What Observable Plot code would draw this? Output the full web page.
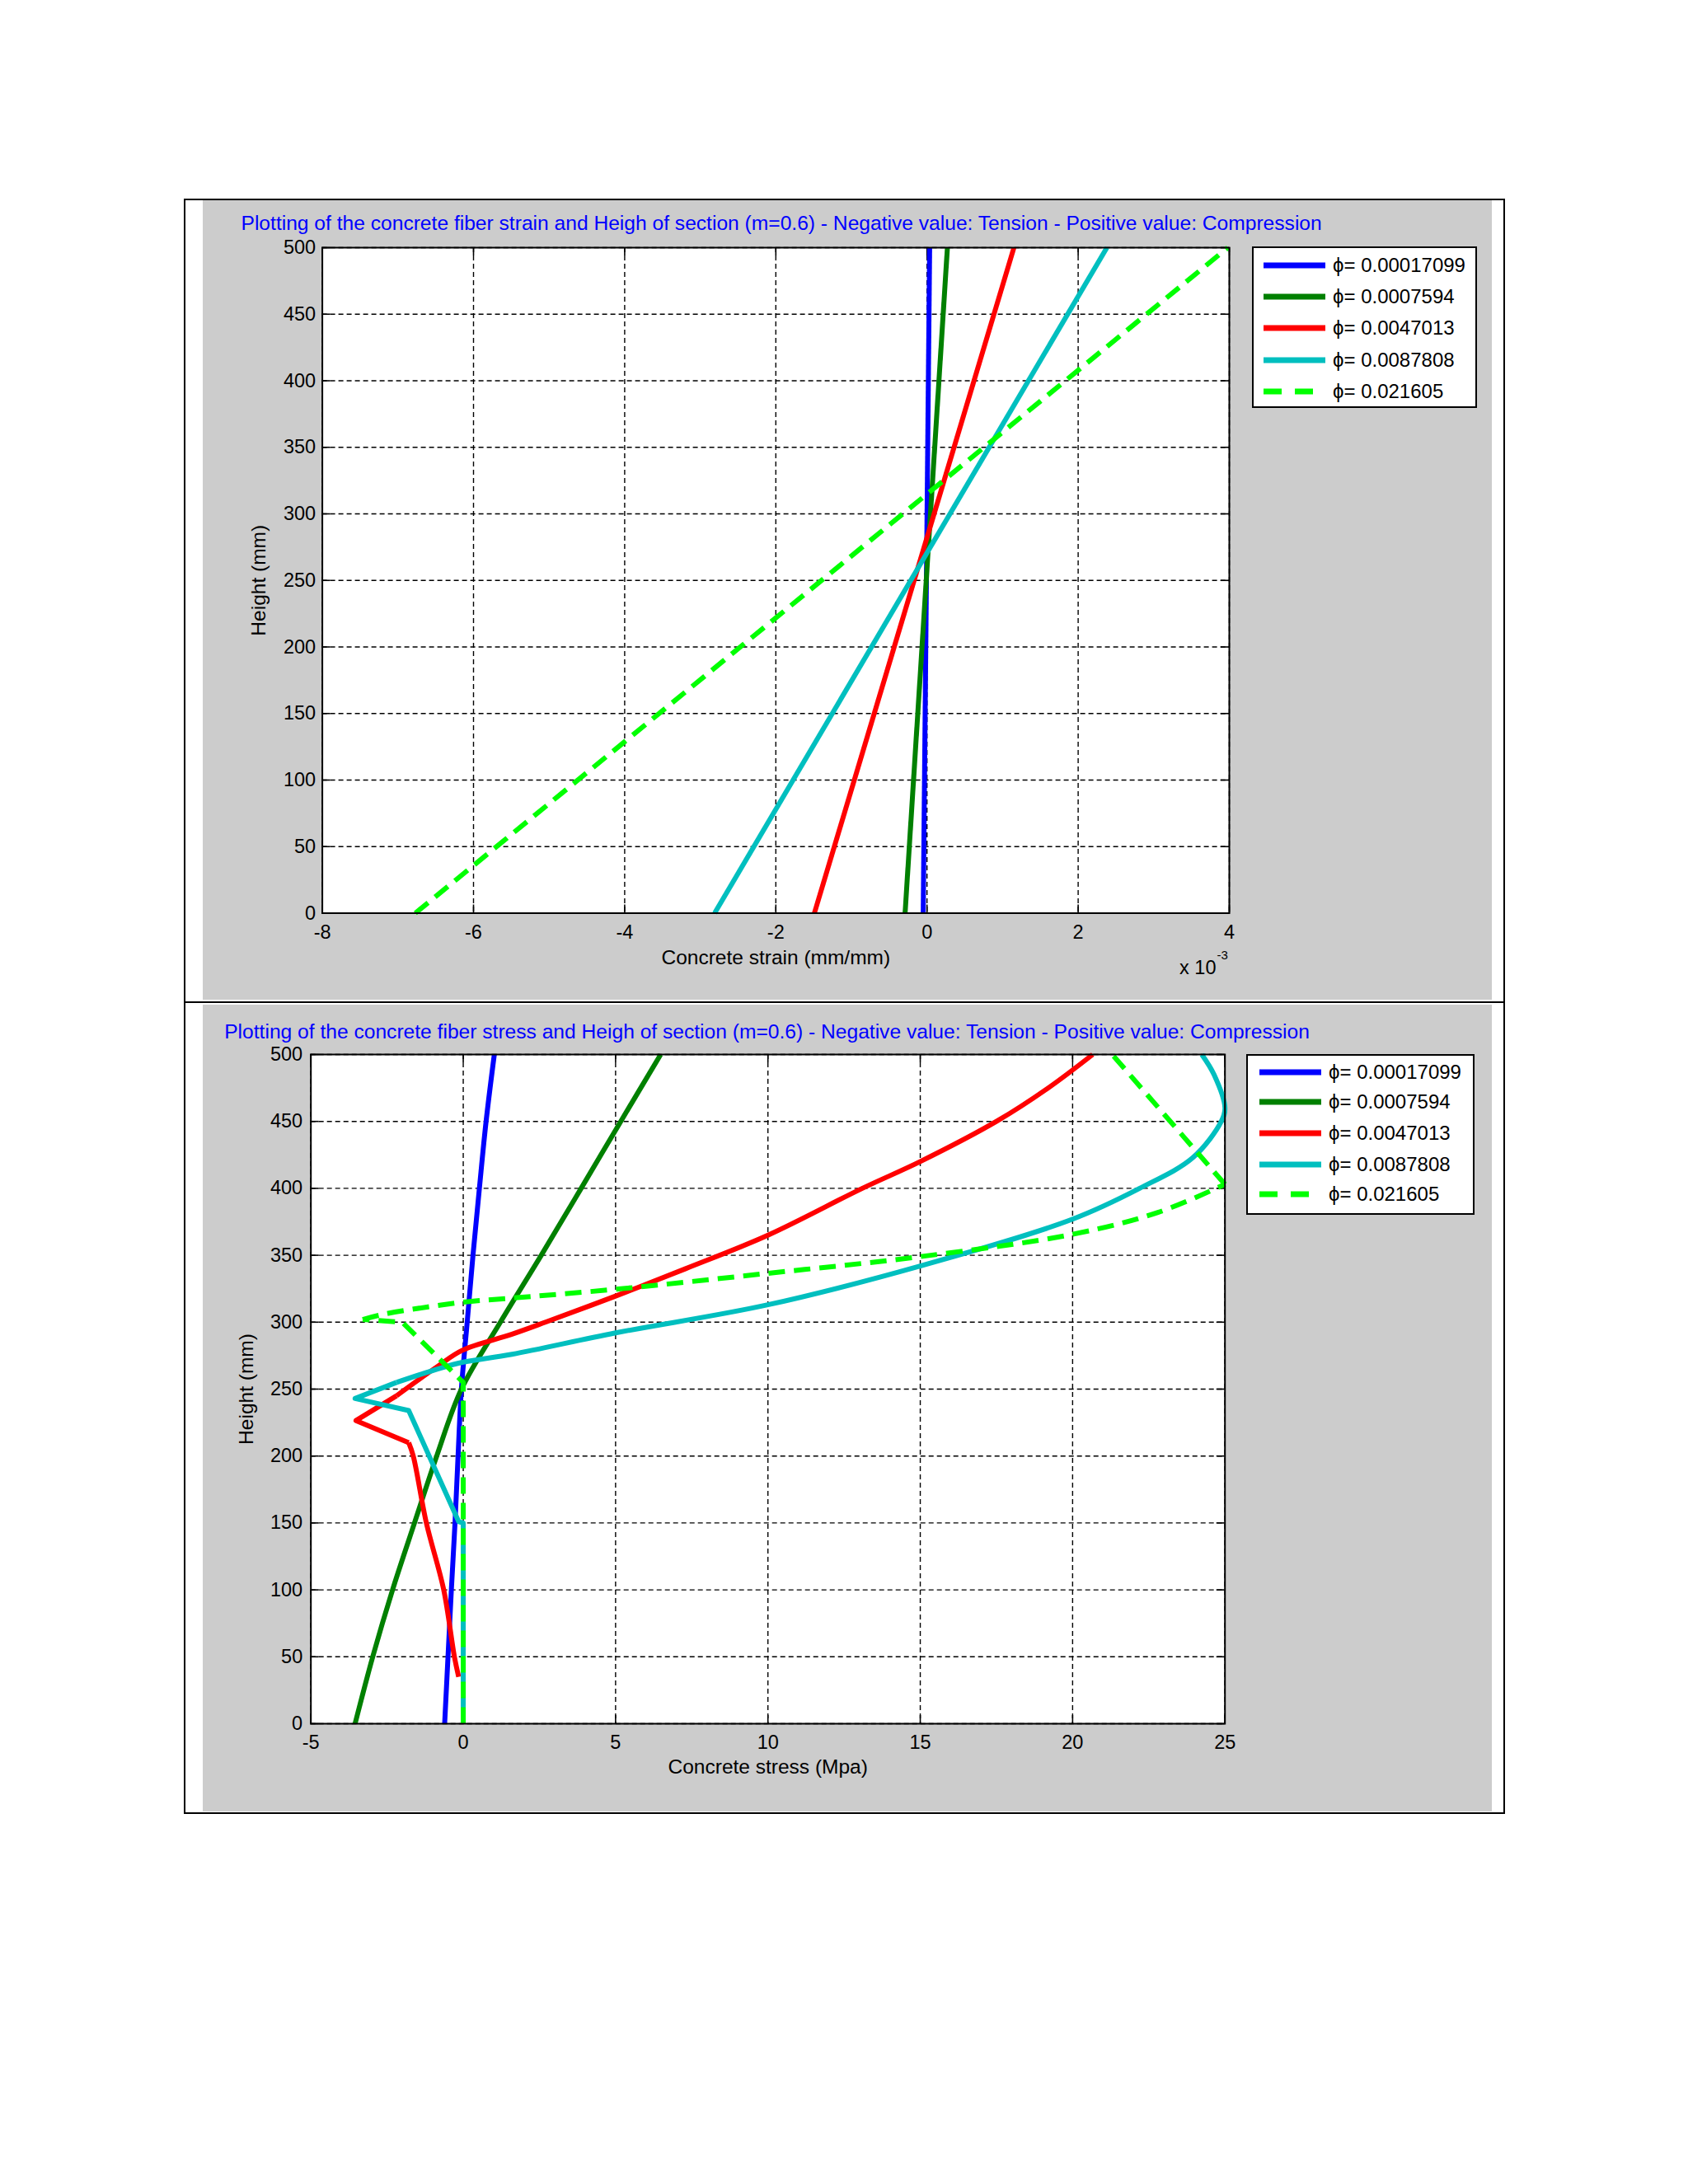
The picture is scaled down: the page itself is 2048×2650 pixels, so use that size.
<!DOCTYPE html>
<html>
<head>
<meta charset="utf-8">
<script src="https://cdn.jsdelivr.net/npm/d3@7"></script>
<script src="https://cdn.jsdelivr.net/npm/@observablehq/plot@0.6"></script>
<style>
  html, body { margin: 0; padding: 0; background: #ffffff; }
  body { width: 2048px; height: 2650px; position: relative; font-family: "Liberation Sans", Arial, sans-serif; }
  .abs { position: absolute; }
  #outer { left: 223px; top: 241px; width: 1599px; height: 1956px; border: 2px solid #000; }
  #divider { left: 225px; top: 1215px; width: 1599px; height: 2px; background: #000; }
  .legend { box-sizing: border-box; border: 2px solid #000; background: #fff; }
  .legrow { position: absolute; left: 0; height: 30px; display: flex; align-items: center; }
  .legrow span { font-size: 24px; color: #000; white-space: nowrap; margin-left: 9px; }
  svg.plotsvg { display: block; }
</style>
</head>
<body>
<div id="outer" class="abs"></div>
<div id="divider" class="abs"></div>
<div id="topChart" class="abs" style="left:246px; top:243px;"></div>
<div id="botChart" class="abs" style="left:246px; top:1219px;"></div>
<div id="legTop" class="abs legend" style="left:1519px; top:299px; width:273px; height:196px;"></div>
<div id="legBot" class="abs legend" style="left:1512px; top:1279px; width:277px; height:195px;"></div>

<script>
// ---------- series (legend) ----------
const phiLabels = ["ϕ= 0.00017099", "ϕ= 0.0007594", "ϕ= 0.0047013", "ϕ= 0.0087808", "ϕ= 0.021605"];
const seriesColors = ["#0000ff", "#008000", "#ff0000", "#00bfbf", "#00ff00"];
const seriesDash = [null, null, null, null, "20,11"];

// ---------- top chart: strain (x 10^-3) vs height ----------
const strainTicks = [-8, -6, -4, -2, 0, 2, 4];
const heightTicks = [0, 50, 100, 150, 200, 250, 300, 350, 400, 450, 500];
const strainHeights = [0, 500];
const strainPhi1 = [-0.05, 0.035];
const strainPhi2 = [-0.29, 0.27];
const strainPhi3 = [-1.49, 1.15];
const strainPhi4 = [-2.81, 2.38];
const strainPhi5 = [-6.77, 3.98];

// ---------- bottom chart: stress (MPa) vs height ----------
const stressTicks = [-5, 0, 5, 10, 15, 20, 25];
const stressH1 = [0, 50, 100, 150, 200, 250, 300, 350, 400, 450, 500];
const stressS1 = [-0.61, -0.50, -0.39, -0.27, -0.17, -0.06, 0.13, 0.32, 0.53, 0.75, 1.02];
const stressH2 = [0, 50, 100, 150, 200, 250, 300, 350, 400, 450, 500];
const stressS2 = [-3.55, -2.97, -2.32, -1.60, -0.87, -0.06, 1.22, 2.56, 3.87, 5.17, 6.48];
const stressH3 = [35, 50, 100, 150, 200, 210, 226.5, 245, 267, 279, 291, 300, 319.5, 340, 365, 400, 420, 450, 475, 500];
const stressS3 = [-0.15, -0.29, -0.64, -1.21, -1.64, -1.79, -3.52, -2.19, -0.84, -0.03, 1.6, 2.7, 5.0, 7.3, 10.0, 13.1, 15.0, 17.5, 19.2, 20.66];
const stressH4 = [0, 150, 151, 234, 243, 255, 265, 270, 276, 292, 313, 342, 377, 400, 423, 450, 460, 485, 500];
const stressS4 = [0, 0, -0.15, -1.79, -3.55, -2.19, -0.84, -0.03, 1.6, 5.0, 10.0, 15.0, 20.0, 22.2, 23.95, 24.88, 25.0, 24.64, 24.24];
const stressH5 = [0, 255, 300, 302, 306, 315, 318, 324.6, 336.5, 349, 365.7, 382, 403, 500];
const stressS5 = [0, 0, -2.0, -3.3, -2.6, 0, 1.6, 5.0, 10.0, 15.0, 20.0, 22.8, 25.0, 21.3];
// index ranges [from, to] of each stress series drawn as smooth curves (the rest is drawn straight)
const stressSmooth = [[[0, 10]], [[0, 10]], [[0, 5], [7, 19]], [[5, 18]], [[3, 12]]];

const topTitle = "Plotting of the concrete fiber strain and Heigh of section (m=0.6) - Negative value: Tension - Positive value: Compression";
const botTitle = "Plotting of the concrete fiber stress and Heigh of section (m=0.6) - Negative value: Tension - Positive value: Compression";

// ---------- helpers ----------
function rows(xs, ys) { return xs.map((x, i) => ({x, y: ys[i]})); }

const strainSeries = [
  rows(strainPhi1, strainHeights), rows(strainPhi2, strainHeights), rows(strainPhi3, strainHeights),
  rows(strainPhi4, strainHeights), rows(strainPhi5, strainHeights)
];
const stressSeries = [
  rows(stressS1, stressH1), rows(stressS2, stressH2), rows(stressS3, stressH3),
  rows(stressS4, stressH4), rows(stressS5, stressH5)
];

const FONT = "'Liberation Sans', Arial, Helvetica, sans-serif";

function seriesMarks(series, smooth) {
  const marks = [];
  series.forEach((data, i) => {
    const base = {x: "x", y: "y", stroke: seriesColors[i], strokeWidth: 6,
      strokeDasharray: seriesDash[i] || undefined, strokeLinejoin: "round", strokeLinecap: "butt"};
    if (!smooth) { marks.push(Plot.line(data, base)); return; }
    // split into alternating straight / smooth pieces
    let pos = 0;
    for (const [a, b] of smooth[i]) {
      if (a > pos) marks.push(Plot.line(data.slice(pos, a + 1), base));
      marks.push(Plot.line(data.slice(a, b + 1), {...base, curve: "catmull-rom"}));
      pos = b;
    }
    if (pos < data.length - 1) marks.push(Plot.line(data.slice(pos), base));
  });
  return marks;
}

function makeChart(cfg) {
  const innerW = cfg.width - cfg.marginLeft - cfg.marginRight;
  const innerH = cfg.height - cfg.marginTop - cfg.marginBottom;
  const tickLen = 10;
  return Plot.plot({
    width: cfg.width, height: cfg.height,
    marginLeft: cfg.marginLeft, marginRight: cfg.marginRight,
    marginTop: cfg.marginTop, marginBottom: cfg.marginBottom,
    className: "plotsvg",
    style: {background: "#cccccc", fontFamily: FONT, fontSize: "23.5px", color: "#000", overflow: "visible"},
    x: {domain: cfg.xDomain},
    y: {domain: [0, 500]},
    marks: [
      Plot.frame({fill: "#ffffff", stroke: null}),
      Plot.gridX(cfg.xTicks, {stroke: "#000", strokeOpacity: 1, strokeWidth: 1.4, strokeDasharray: "6,4"}),
      Plot.gridY(heightTicks, {stroke: "#000", strokeOpacity: 1, strokeWidth: 1.4, strokeDasharray: "6,4"}),
      Plot.tickX(cfg.xTicks, {x: d => d, insetTop: innerH - tickLen, stroke: "#000", strokeWidth: 1.6}),
      Plot.tickX(cfg.xTicks, {x: d => d, insetBottom: innerH - tickLen, stroke: "#000", strokeWidth: 1.6}),
      Plot.tickY(heightTicks, {y: d => d, insetRight: innerW - tickLen, stroke: "#000", strokeWidth: 1.6}),
      Plot.tickY(heightTicks, {y: d => d, insetLeft: innerW - tickLen, stroke: "#000", strokeWidth: 1.6}),
      ...seriesMarks(cfg.series, cfg.smooth),
      Plot.frame({stroke: "#000", strokeWidth: 2}),
      Plot.axisX(cfg.xTicks, {tickSize: 0, tickPadding: 14, tickFormat: d => String(d), label: null, fontSize: 23.5}),
      Plot.axisY(heightTicks, {tickSize: 0, tickPadding: cfg.yPad, tickFormat: d => String(d), label: null, fontSize: 23.5}),
      Plot.text([cfg.title], {frameAnchor: "top-left", textAnchor: "start", lineAnchor: "middle", dx: cfg.titleDx, dy: cfg.titleDy, fill: "#0000ff", fontSize: 24.6}),
      Plot.text([cfg.xLabel], {frameAnchor: "bottom", textAnchor: "middle", lineAnchor: "middle", dy: cfg.xLabelDy, fontSize: 24.5}),
      Plot.text(["Height (mm)"], {frameAnchor: "left", textAnchor: "middle", lineAnchor: "middle", rotate: -90, dx: cfg.yLabelDx, fontSize: 24.5}),
      ...(cfg.extra || [])
    ]
  });
}

const topSvg = makeChart({
  width: 1564, height: 970, marginLeft: 144.6, marginRight: 319, marginTop: 57, marginBottom: 105.5,
  xDomain: [-8, 4], xTicks: strainTicks, series: strainSeries, smooth: null, yPad: 8,
  title: topTitle, titleDx: -98.6, titleDy: -29,
  xLabel: "Concrete strain (mm/mm)", xLabelDy: 54, yLabelDx: -77,
  extra: [
    Plot.text(["x 10"], {frameAnchor: "bottom-right", textAnchor: "end", lineAnchor: "middle", dx: -16, dy: 66, fontSize: 23.5}),
    Plot.text(["-3"], {frameAnchor: "bottom-right", textAnchor: "start", lineAnchor: "middle", dx: -15, dy: 51.5, fontSize: 15})
  ]
});
document.getElementById("topChart").appendChild(topSvg);

const botSvg = makeChart({
  width: 1564, height: 979, marginLeft: 130.7, marginRight: 324.3, marginTop: 60, marginBottom: 107,
  xDomain: [-5, 25], xTicks: stressTicks, series: stressSeries, smooth: stressSmooth, yPad: 10,
  title: botTitle, titleDx: -105, titleDy: -27,
  xLabel: "Concrete stress (Mpa)", xLabelDy: 53, yLabelDx: -78
});
document.getElementById("botChart").appendChild(botSvg);

// ---------- legends ----------
function buildLegend(el, rowTops, x0, x1) {
  phiLabels.forEach((lab, i) => {
    const row = document.createElement("div");
    row.className = "legrow";
    row.style.top = (rowTops[i] - 15) + "px";
    row.style.left = x0 + "px";
    const ns = "http://www.w3.org/2000/svg";
    const s = document.createElementNS(ns, "svg");
    s.setAttribute("width", x1 - x0); s.setAttribute("height", 10);
    const ln = document.createElementNS(ns, "line");
    ln.setAttribute("x1", 0); ln.setAttribute("x2", x1 - x0);
    ln.setAttribute("y1", 5); ln.setAttribute("y2", 5);
    ln.setAttribute("stroke", seriesColors[i]); ln.setAttribute("stroke-width", 7);
    if (seriesDash[i]) ln.setAttribute("stroke-dasharray", "22,16");
    s.appendChild(ln);
    row.appendChild(s);
    const t = document.createElement("span");
    t.textContent = lab;
    row.appendChild(t);
    el.appendChild(row);
  });
}
buildLegend(document.getElementById("legTop"), [21, 59, 97, 136, 174], 12, 87);
buildLegend(document.getElementById("legBot"), [20, 56, 94, 132, 168], 14, 89);
</script>
</body>
</html>
